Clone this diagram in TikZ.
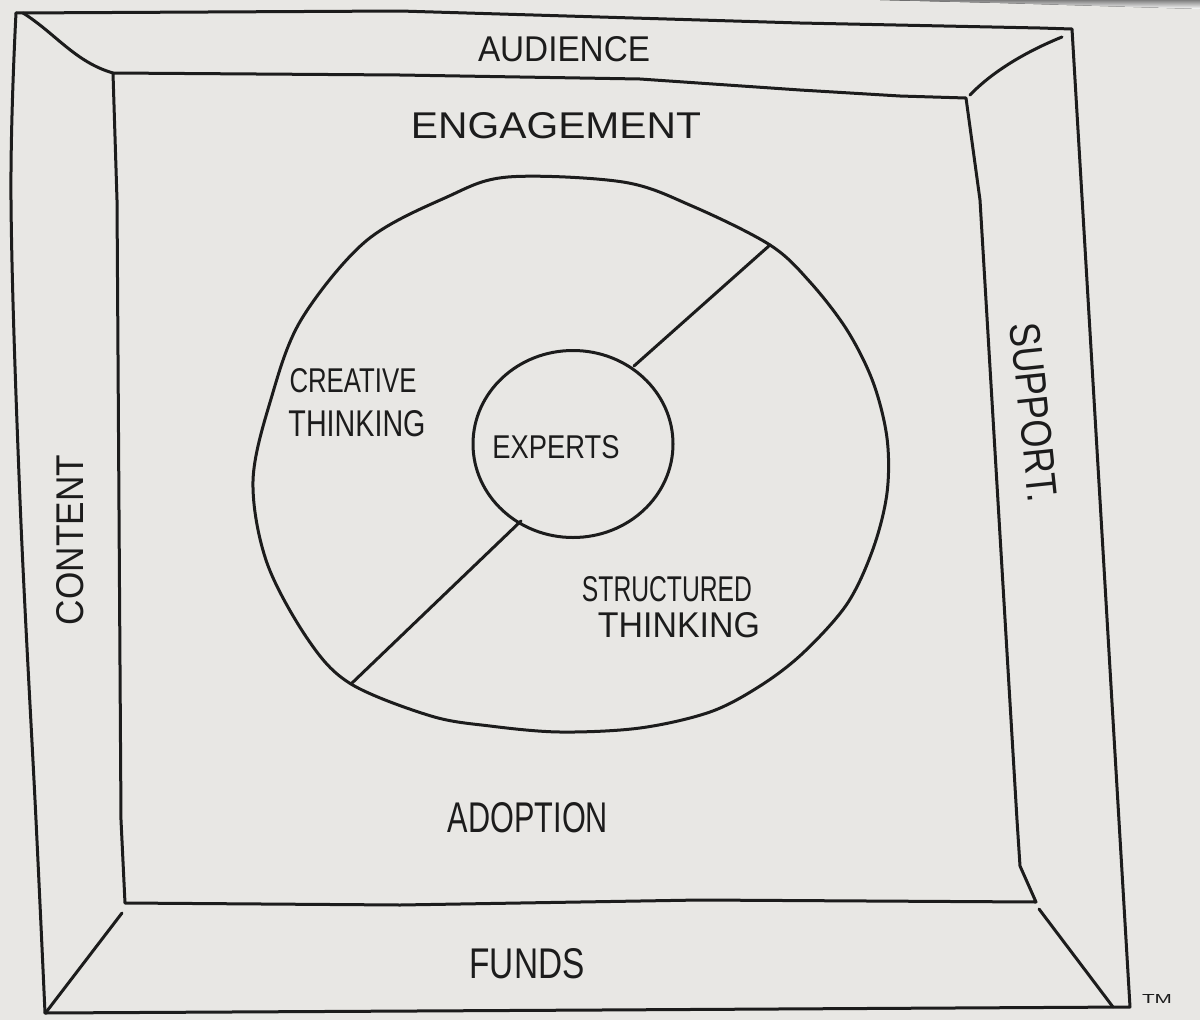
\documentclass[tikz,border=0pt]{standalone}
\usepackage{fontspec}
\setmainfont{Liberation Sans}
\usepackage{graphicx}
\usetikzlibrary{shapes.geometric}
\definecolor{paper}{RGB}{232,231,228}
\definecolor{ink}{RGB}{28,28,28}
\definecolor{shade}{RGB}{128,128,120}
\newcommand{\hand}[3]{\resizebox{#1pt}{#2pt}{#3}}
\begin{document}
\begin{tikzpicture}[x=1pt,y=-1pt,
  pen/.style={draw=ink,line width=3pt,line cap=round,line join=round},
  lbl/.style={inner sep=0pt,outer sep=0pt,text=ink},
  ring/.style={ellipse,draw=ink,line width=3pt,inner sep=0pt,outer sep=0pt}]
\fill[paper] (0,0) rectangle (1200,1020);
\useasboundingbox (0,0) rectangle (1200,1020);
\fill[shade] (880,0) -- (1200,0) -- (1200,9) -- (1000,3) -- cycle;

% outer frame corners
\coordinate (o1) at (16,13);
\coordinate (o2) at (1072,29);
\coordinate (o3) at (1130,1007);
\coordinate (o4) at (45,1013);
% inner frame corners
\coordinate (i1) at (113,73);
\coordinate (i2) at (966,98);
\coordinate (i3) at (1036,902);
\coordinate (i4) at (125,903);

% outer frame
\draw[pen] (o1) -- (400,11) -- (800,23) -- (1040,28) -- (o2)
  -- (1100,500) -- (o3) -- (600,1010) -- (o4);
\draw[pen] plot[smooth,tension=0.6] coordinates {(45,1013) (36,820) (20,500) (11,200) (16,13)};
% inner frame
\draw[pen] (i1) -- (400,75) -- (640,79) -- (800,90) -- (900,96) -- (i2)
  -- (980,200) -- (1017,820) -- (1020,866) -- (i3)
  -- (700,900) -- (400,905) -- (i4) -- (121,820) -- (117,200) -- cycle;
% corner diagonals
\draw[pen] (23,13) .. controls (55,33) and (75,62) .. (i1);
\draw[pen] (1062,37) .. controls (1025,52) and (992,72) .. (970,95);
\draw[pen] (122,913) -- (47,1011);
\draw[pen] (1039,909) -- (1113,1007);

% big circle (hand drawn)
\coordinate (d1a) at (770,245);
\coordinate (d2b) at (351,684);
\draw[pen] plot[smooth cycle,tension=0.55] coordinates {
  (508,177) (623,182) (692,206) (770,245) (810,282) (847,330) (873,382)
  (887,438) (887,493) (873,549) (847,604) (803,653) (760,686) (710,712)
  (640,728) (560,732) (490,726) (431,716) (351,684) (309,641) (267,563)
  (253,481) (271,399) (301,320) (366,241) (447,197)};
% inner circle
\node[ring,minimum width=200pt,minimum height=187pt] (inner) at (573,444) {};
\coordinate (d1b) at (634,366);
\coordinate (d2a) at (521,521);
\draw[pen] (d1b) -- (d1a);
\draw[pen] (d2a) -- (d2b);

% labels
\node[lbl] (audience) at (564,49) {\hand{172}{25}{AUDIENCE}};
\node[lbl] (engagement) at (556,126) {\hand{290}{26}{ENGAGEMENT}};
\node[lbl] (creative1) at (353,381) {\hand{127}{24}{CREATIVE}};
\node[lbl] (creative2) at (357,424) {\hand{137}{26}{THINKING}};
\node[lbl] (experts) at (556,447) {\hand{127}{23}{EXPERTS}};
\node[lbl] (struct1) at (667,589) {\hand{170}{25}{STRUCTURED}};
\node[lbl] (struct2) at (679,625) {\hand{162}{25}{THINKING}};
\node[lbl] (adoption) at (528,818) {\hand{160}{30}{ADOPTION}};
\node[lbl] (funds) at (527,964) {\hand{115}{30}{FUNDS}};
\node[lbl,rotate=90] (content) at (70,540) {\hand{170}{27}{CONTENT}};
\node[lbl,rotate=-84] (support) at (1034,412) {\hand{180}{30}{SUPPORT.}};
\node[lbl] (tm) at (1157,999) {\hand{30}{9}{TM}};
\end{tikzpicture}
\end{document}
